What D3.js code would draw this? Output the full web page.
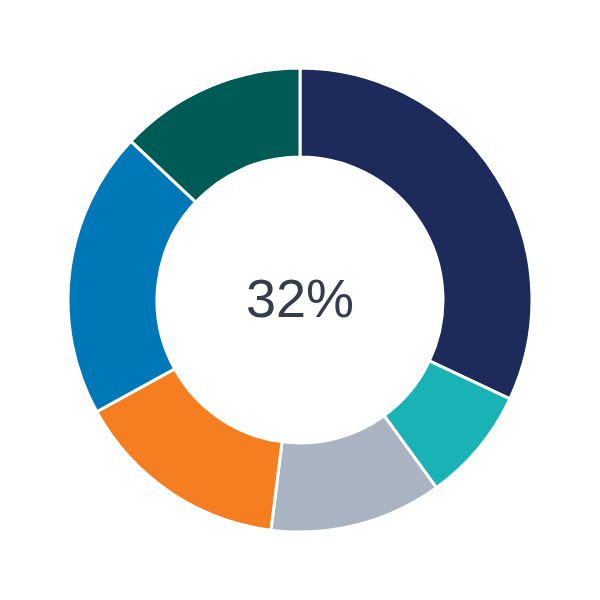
<!DOCTYPE html>
<html>
<head>
<meta charset="utf-8">
<script src="https://cdn.jsdelivr.net/npm/d3@7"></script>
<style>
  body { margin: 0; background: #fff; }
  svg { display: block; }
</style>
</head>
<body>
<div id="chart"><svg width="600" height="600"></svg></div>
<script>
// Slice data, clockwise from 12 o'clock
const segments = ["A", "B", "C", "D", "E", "F"];
const shares = [32, 8, 12, 15, 20, 13];
const colors = ["#1c2b5a", "#1ab3b5", "#a9b3c1", "#f47e20", "#0077b6", "#005a55"];
const centerLabel = "32%";

const width = 600;
const height = 600;
const outerR = 232;
const innerR = 143;

const svg = d3.select("#chart svg")
  .append("g")
  .attr("transform", `translate(${width / 2},${height / 2})`);

const pie = d3.pie()
  .value(d => d.value)
  .sort(null);

const arc = d3.arc()
  .innerRadius(innerR)
  .outerRadius(outerR);

const color = d3.scaleOrdinal()
  .domain(segments)
  .range(colors);

const data = segments.map((s, i) => ({ name: s, value: shares[i] }));

svg.selectAll("path")
  .data(pie(data))
  .enter()
  .append("path")
  .attr("d", arc)
  .attr("fill", d => color(d.data.name))
  .attr("stroke", "#fff")
  .attr("stroke-width", 3)
  .attr("stroke-linejoin", "miter");

svg.append("text")
  .attr("text-anchor", "middle")
  .attr("dy", "0.35em")
  .attr("y", -2)
  .style("font-family", "'Liberation Sans', Arial, sans-serif")
  .style("font-size", "54px")
  .style("fill", "#333d4b")
  .text(centerLabel);
</script>
</body>
</html>
